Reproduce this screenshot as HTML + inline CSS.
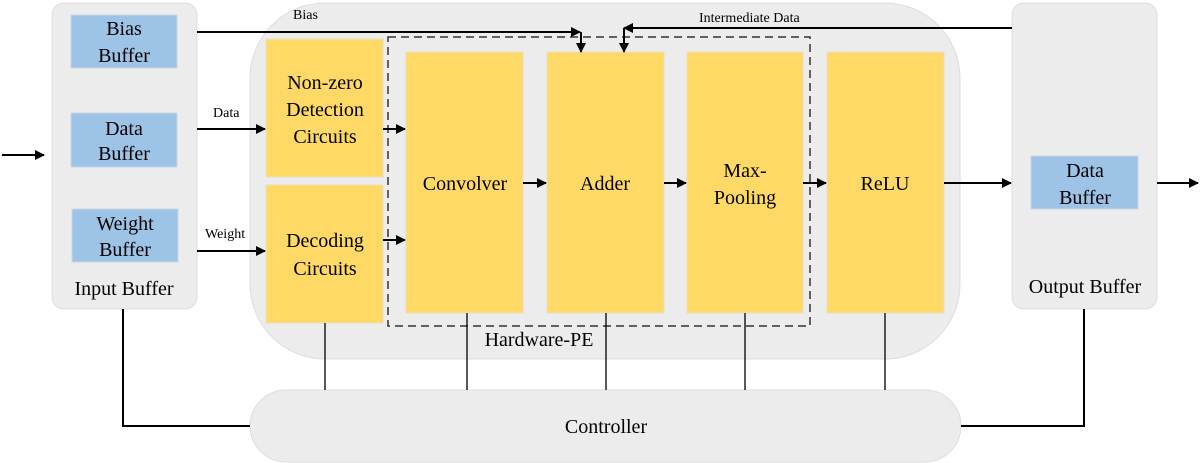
<!DOCTYPE html>
<html><head><meta charset="utf-8"><style>
body{margin:0;background:#fff;}
svg{display:block;font-family:"Liberation Serif",serif;}
</style></head><body>
<svg width="1200" height="463" viewBox="0 0 1200 463" xmlns="http://www.w3.org/2000/svg">
<defs><marker id="a" markerWidth="10" markerHeight="10" refX="9" refY="5" orient="auto" markerUnits="userSpaceOnUse"><path d="M0,0 L10,5 L0,10 z" fill="#000"/></marker></defs>
<rect x="250" y="3" width="710" height="356" rx="75" fill="#ececec" stroke="#ddd"/>
<rect x="52" y="3" width="145" height="306" rx="12" fill="#ececec" stroke="#ddd"/>
<rect x="1012" y="3" width="145" height="306" rx="12" fill="#ececec" stroke="#ddd"/>
<rect x="250" y="390" width="711" height="72" rx="36" fill="#ececec" stroke="#ddd"/>
<g fill="#9dc3e6" stroke="#c9d6e3">
<rect x="71" y="15" width="106" height="53"/>
<rect x="71" y="113" width="106" height="54"/>
<rect x="72" y="209" width="106" height="53"/>
<rect x="1031" y="156" width="107" height="53"/>
</g>
<g fill="#ffd966" stroke="#e8e0c0">
<rect x="266" y="39" width="117" height="138"/>
<rect x="266" y="185" width="117" height="138"/>
<rect x="406" y="52" width="117" height="261"/>
<rect x="547" y="52" width="117" height="261"/>
<rect x="687" y="52" width="116" height="261"/>
<rect x="827" y="52" width="117" height="261"/>
</g>
<rect x="388" y="37" width="422" height="289" fill="none" stroke="#333" stroke-width="1.5" stroke-dasharray="8,5"/>
<g stroke="#000" stroke-width="2" fill="none">
<line x1="2" y1="155" x2="44" y2="155" marker-end="url(#a)"/>
<line x1="197" y1="129" x2="265" y2="129" marker-end="url(#a)"/>
<line x1="197" y1="251" x2="265" y2="251" marker-end="url(#a)"/>
<line x1="383" y1="129" x2="405" y2="129" marker-end="url(#a)"/>
<line x1="383" y1="240" x2="405" y2="240" marker-end="url(#a)"/>
<line x1="523" y1="183" x2="546" y2="183" marker-end="url(#a)"/>
<line x1="664" y1="183" x2="686" y2="183" marker-end="url(#a)"/>
<line x1="803" y1="183" x2="826" y2="183" marker-end="url(#a)"/>
<line x1="944" y1="183" x2="1011" y2="183" marker-end="url(#a)"/>
<line x1="1157" y1="183" x2="1198" y2="183" marker-end="url(#a)"/>
<polyline points="197,32 580,32" marker-end="url(#a)"/>
<polyline points="581,32 581,52" marker-end="url(#a)"/>
<polyline points="1012,28 624,28" marker-end="url(#a)"/>
<polyline points="624,28 624,52" marker-end="url(#a)"/>
<polyline points="123,309 123,426 250,426"/>
<polyline points="1084,309 1084,426 961,426"/>
</g>
<g stroke="#000" stroke-width="1.3">
<line x1="325" y1="323" x2="325" y2="390"/>
<line x1="467" y1="313" x2="467" y2="390"/>
<line x1="606" y1="313" x2="606" y2="390"/>
<line x1="745" y1="313" x2="745" y2="390"/>
<line x1="885" y1="313" x2="885" y2="390"/>
</g>
<g font-size="20" text-anchor="middle" fill="#000">
<text x="124" y="35">Bias</text><text x="124" y="62">Buffer</text>
<text x="124" y="135">Data</text><text x="124" y="160">Buffer</text>
<text x="125" y="230">Weight</text><text x="125" y="256">Buffer</text>
<text x="124" y="295">Input Buffer</text>
<text x="1085" y="177">Data</text><text x="1085" y="204">Buffer</text>
<text x="1085" y="293">Output Buffer</text>
<text x="325" y="89">Non-zero</text><text x="325" y="116">Detection</text><text x="325" y="143">Circuits</text>
<text x="325" y="247">Decoding</text><text x="325" y="275">Circuits</text>
<text x="465" y="190">Convolver</text>
<text x="605" y="190">Adder</text>
<text x="745" y="177">Max-</text><text x="745" y="204">Pooling</text>
<text x="885" y="190">ReLU</text>
<text x="539" y="346">Hardware-PE</text>
<text x="606" y="433">Controller</text>
</g>
<g font-size="14" fill="#000">
<text x="293" y="19">Bias</text>
<text x="213" y="117">Data</text>
<text x="205" y="238">Weight</text>
<text x="699" y="22">Intermediate Data</text>
</g>
</svg>
</body></html>
